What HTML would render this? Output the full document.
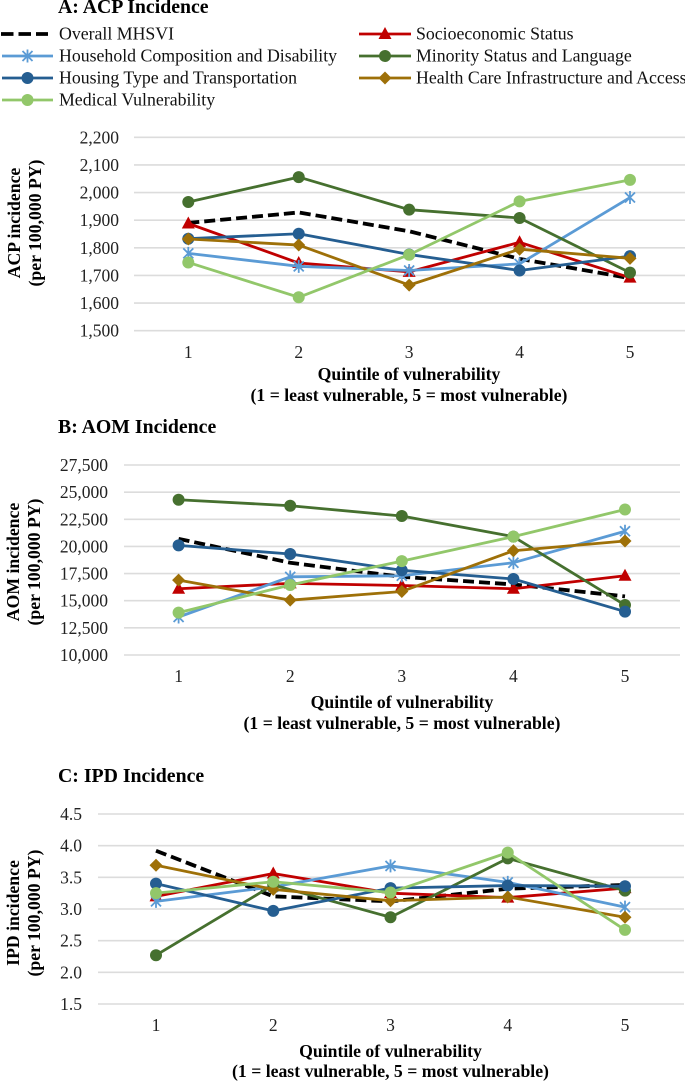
<!DOCTYPE html>
<html lang="en">
<head>
<meta charset="utf-8">
<title>Incidence by quintile of vulnerability</title>
<style>
html,body{margin:0;padding:0;background:#fff;}
#fig{position:relative;display:block;width:685px;height:1081px;}
text{font-family:"Liberation Serif",serif;fill:#000;}
.title{font-weight:bold;font-size:19.8px;}
.leg{font-size:17.8px;fill:#111;}
.tick{font-size:17.5px;fill:#222;}
.axt{font-weight:bold;font-size:17.7px;}
</style>
</head>
<body>
<svg id="fig" xmlns="http://www.w3.org/2000/svg" width="685" height="1081" viewBox="0 0 685 1081">
  <text class="title" x="58" y="13">A: ACP Incidence</text>
  <text class="title" x="58" y="433">B: AOM Incidence</text>
  <text class="title" x="58" y="782">C: IPD Incidence</text>
  <g id="legend"></g>
  <g id="chartA"></g>
  <g id="chartB"></g>
  <g id="chartC"></g>

  <text class="axt" text-anchor="middle" transform="translate(20,223) rotate(-90)">ACP incidence</text>
  <text class="axt" text-anchor="middle" transform="translate(41,223) rotate(-90)">(per 100,000 PY)</text>
  <text class="axt" x="409" y="380" text-anchor="middle">Quintile of vulnerability</text>
  <text class="axt" x="409" y="401" text-anchor="middle">(1 = least vulnerable, 5 = most vulnerable)</text>

  <text class="axt" text-anchor="middle" transform="translate(19,562) rotate(-90)">AOM incidence</text>
  <text class="axt" text-anchor="middle" transform="translate(40,562) rotate(-90)">(per 100,000 PY)</text>
  <text class="axt" x="402" y="708" text-anchor="middle">Quintile of vulnerability</text>
  <text class="axt" x="402" y="729" text-anchor="middle">(1 = least vulnerable, 5 = most vulnerable)</text>

  <text class="axt" text-anchor="middle" transform="translate(19,913) rotate(-90)">IPD incidence</text>
  <text class="axt" text-anchor="middle" transform="translate(40,913) rotate(-90)">(per 100,000 PY)</text>
  <text class="axt" x="390.5" y="1057" text-anchor="middle">Quintile of vulnerability</text>
  <text class="axt" x="390.5" y="1077" text-anchor="middle">(1 = least vulnerable, 5 = most vulnerable)</text>
</svg>
<script>
const categories = [1, 2, 3, 4, 5];
const seriesNames = ["Overall MHSVI", "Socioeconomic Status", "Household Composition and Disability", "Minority Status and Language", "Housing Type and Transportation", "Health Care Infrastructure and Access", "Medical Vulnerability"];

const acpOverall = [1890, 1928, 1860, 1760, 1690];
const acpSocio = [1888, 1745, 1713, 1820, 1692];
const acpHousehold = [1780, 1733, 1718, 1742, 1982];
const acpMinority = [1966, 2056, 1938, 1908, 1710];
const acpHousing = [1833, 1851, 1776, 1718, 1770];
const acpHealth = [1832, 1810, 1665, 1795, 1762];
const acpMedical = [1747, 1621, 1775, 1968, 2046];
const acpTicks = [1500, 1600, 1700, 1800, 1900, 2000, 2100, 2200];

const aomOverall = [20700, 18500, 17200, 16500, 15400];
const aomSocio = [16100, 16600, 16400, 16100, 17300];
const aomHousehold = [13500, 17200, 17300, 18500, 21400];
const aomMinority = [24300, 23750, 22800, 20900, 14600];
const aomHousing = [20100, 19300, 17800, 17000, 14000];
const aomHealth = [16900, 15050, 15850, 19600, 20500];
const aomMedical = [13900, 16450, 18650, 20900, 23400];
const aomTicks = [10000, 12500, 15000, 17500, 20000, 22500, 25000, 27500];

const ipdOverall = [3.92, 3.2, 3.12, 3.32, 3.38];
const ipdSocio = [3.2, 3.56, 3.25, 3.18, 3.33];
const ipdHousehold = [3.12, 3.35, 3.68, 3.42, 3.03];
const ipdMinority = [2.27, 3.38, 2.87, 3.8, 3.29];
const ipdHousing = [3.4, 2.97, 3.33, 3.37, 3.36];
const ipdHealth = [3.69, 3.31, 3.13, 3.19, 2.87];
const ipdMedical = [3.25, 3.43, 3.26, 3.89, 2.67];
const ipdTicks = [1.5, 2.0, 2.5, 3.0, 3.5, 4.0, 4.5];

const NS = "http://www.w3.org/2000/svg";
const COLORS = ["#000000", "#c00000", "#5b9bd5", "#46702f", "#255e91", "#9e7008", "#92c76a"];
const MARKS = ["none", "triangle", "star", "circle", "circle", "diamond", "circle"];
const SLUGS = ["overall-mhsvi", "socioeconomic-status", "household-composition", "minority-status", "housing-type", "health-care-access", "medical-vulnerability"];

function make(tag, attrs, parent) {
  const el = document.createElementNS(NS, tag);
  for (const k in attrs) el.setAttribute(k, attrs[k]);
  parent.appendChild(el);
  return el;
}

function drawMarker(parent, kind, x, y, color) {
  let m = null;
  if (kind === "circle") {
    m = make("circle", {cx: x, cy: y, r: 6, fill: color}, parent);
  } else if (kind === "diamond") {
    m = make("polygon", {points: [x, y - 6.5, x + 6.5, y, x, y + 6.5, x - 6.5, y].join(" "), fill: color}, parent);
  } else if (kind === "triangle") {
    m = make("polygon", {points: [x, y - 7, x + 6.5, y + 5, x - 6.5, y + 5].join(" "), fill: color}, parent);
  } else if (kind === "star") {
    m = make("path", {d: "M" + (x - 5) + " " + (y - 5) + "L" + (x + 5) + " " + (y + 5) + "M" + (x + 5) + " " + (y - 5) + "L" + (x - 5) + " " + (y + 5) + "M" + x + " " + (y - 6.5) + "V" + (y + 6.5), fill: "none", stroke: color, "stroke-width": 1.8}, parent);
  }
  return m;
}

function drawChart(cfg) {
  const root = document.getElementById(cfg.id);
  const lo = cfg.ticks[0], hi = cfg.ticks[cfg.ticks.length - 1];
  const yScale = v => cfg.yBottom + (v - lo) / (hi - lo) * (cfg.yTop - cfg.yBottom);
  const xScale = c => cfg.x1 + (c - categories[0]) / (categories[categories.length - 1] - categories[0]) * (cfg.x5 - cfg.x1);

  cfg.ticks.forEach(t => {
    const y = yScale(t);
    const g = make("line", {x1: cfg.gridL, x2: cfg.gridR, y1: y, y2: y, stroke: "#dcdcdc", "stroke-width": 1.6}, root);
    
    
    const lab = make("text", {class: "tick", x: cfg.labelR, y: y + 6, "text-anchor": "end"}, root);
    lab.textContent = cfg.fmt(t);
    
    
  });

  categories.forEach(c => {
    const lab = make("text", {class: "tick", x: xScale(c), y: cfg.xLabelY, "text-anchor": "middle"}, root);
    lab.textContent = c;
    
    
  });

  cfg.series.forEach((vals, i) => {
    const g = make("g", {}, root);
    
    
    const pts = vals.map((v, j) => xScale(categories[j]) + "," + yScale(v)).join(" ");
    const line = make("polyline", {points: pts, fill: "none", stroke: COLORS[i], "stroke-width": i === 0 ? 3.8 : 2.8, "stroke-linejoin": "round"}, g);
    if (i === 0) line.setAttribute("stroke-dasharray", "11 5");
    
    
    vals.forEach((v, j) => {
      const m = drawMarker(g, MARKS[i], xScale(categories[j]), yScale(v), COLORS[i]);
      if (m) {
        
        
      }
    });
  });
}

function drawLegend() {
  const root = document.getElementById("legend");
  const rows = [34, 34, 56, 56, 78, 78, 100];
  const cols = [0, 1, 0, 1, 0, 1, 0];
  const lineL = [2, 359];
  const lineR = [53, 411];
  const textX = [59, 416];
  seriesNames.forEach((name, i) => {
    const c = cols[i], y = rows[i];
    const g = make("g", {}, root);
    
    
    const ln = make("line", {x1: i === 0 ? 1 : lineL[c], x2: i === 0 ? 48 : lineR[c], y1: y, y2: y, stroke: COLORS[i], "stroke-width": i === 0 ? 3.8 : 2.8}, g);
    if (i === 0) {
      ln.setAttribute("stroke-dasharray", "12.5 5");
    }
    drawMarker(g, MARKS[i], (lineL[c] + lineR[c]) / 2, y, COLORS[i]);
    const t = make("text", {class: "leg", x: textX[c], y: y + 5.5}, g);
    t.textContent = name;
  });
}

drawLegend();

drawChart({
  id: "chartA",
  ticks: acpTicks,
  series: [acpOverall, acpSocio, acpHousehold, acpMinority, acpHousing, acpHealth, acpMedical],
  yTop: 137.3, yBottom: 330.7,
  x1: 188.3, x5: 630,
  gridL: 134, gridR: 685,
  labelR: 119, xLabelY: 358,
  fmt: v => v.toLocaleString("en-US")
});

drawChart({
  id: "chartB",
  ticks: aomTicks,
  series: [aomOverall, aomSocio, aomHousehold, aomMinority, aomHousing, aomHealth, aomMedical],
  yTop: 465, yBottom: 655,
  x1: 178.6, x5: 625,
  gridL: 124, gridR: 680,
  labelR: 108, xLabelY: 682,
  fmt: v => v.toLocaleString("en-US")
});

drawChart({
  id: "chartC",
  ticks: ipdTicks,
  series: [ipdOverall, ipdSocio, ipdHousehold, ipdMinority, ipdHousing, ipdHealth, ipdMedical],
  yTop: 814, yBottom: 1004,
  x1: 156, x5: 625,
  gridL: 98, gridR: 684,
  labelR: 82, xLabelY: 1031,
  fmt: v => v.toFixed(1)
});
</script>
</body>
</html>
